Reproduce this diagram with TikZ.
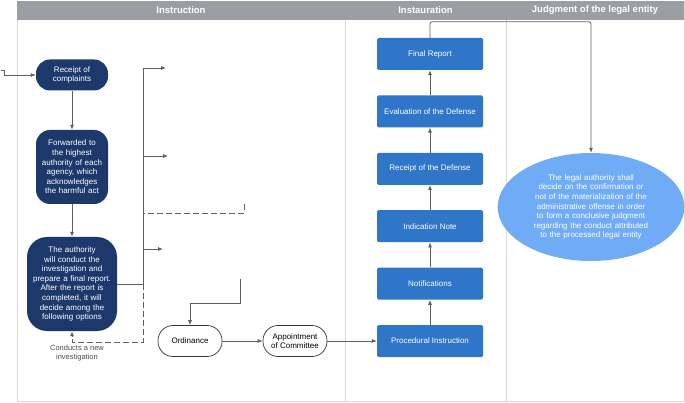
\documentclass[tikz,border=0pt]{standalone}
\usepackage{fontspec}
\setmainfont{Liberation Sans}
\definecolor{navy}{RGB}{29,57,107}
\definecolor{midblue}{RGB}{35,86,155}
\definecolor{boxblue}{RGB}{47,117,200}
\definecolor{lightblue}{RGB}{112,172,245}
\definecolor{lanegray}{RGB}{155,158,163}
\definecolor{linegray}{RGB}{95,95,95}
\usetikzlibrary{
  shapes.geometric, % ellipse
  positioning,      % relative placement
  arrows.meta
}
\pgfdeclarelayer{background}
\pgfsetlayers{background,main}
\hyphenpenalty=10000
\tikzset{
  x=1pt, y=-1pt,
  node distance=25pt and 25pt,
  every node/.style = {font=\fontsize{8}{9.6}\selectfont, align=center, inner sep=1pt},
  lane/.style = {draw=black!15, line width=0.8pt},
  head/.style = {fill=lanegray, text=white, font=\bfseries\fontsize{9.5}{11}\selectfont},
  start/.style = {rounded corners=14pt, fill=navy, text=white, minimum width=72pt},
  option/.style = {text=white},
  optfill/.style = {fill=midblue},
  stage/.style = {rectangle, rounded corners=1.5pt, fill=boxblue, text=white,
    minimum width=106pt, minimum height=32pt},
  event/.style = {rounded corners=15pt, draw=black!80, line width=0.7pt, fill=white,
    minimum height=31pt, minimum width=64pt},
  flow/.style = {draw=linegray, line width=0.8pt, -{Latex[length=5pt,width=4pt]}},
  back/.style = {flow, dashed, dash pattern=on 6pt off 3pt},
}
\begin{document}
\begin{tikzpicture}
  \useasboundingbox (0,0) rectangle (685,403);

  %% lanes
  \fill[white] (0,0) rectangle (685,403);
  \draw[lane] (17,1) rectangle (684,401);
  \draw[lane] (345,1) -- (345,401);
  \draw[lane] (506,1) -- (506,401);
  \node[head, minimum width=328pt, minimum height=19pt] at (181,10.5) {Instruction};
  \node[head, minimum width=161pt, minimum height=19pt] at (425.5,10.5) {Instauration};
  \node[head, minimum width=178pt, minimum height=19pt] at (595,10.5) {Judgment of the legal entity};

  %% nodes
  \node[start, minimum height=31pt] (RC) at (72,75) {Receipt of\\complaints};
  \node[start, minimum height=74pt, text width=70pt] (FW) at (72,167) {Forwarded to the highest authority of each agency, which acknowledges the harmful act};
  \node[start, minimum height=94pt, minimum width=89pt, text width=88pt, rounded corners=20pt] (AU) at (72,284) {The authority will conduct the investigation and prepare a final report. After the report is completed, it will decide among the following options};

  \node[option, text width=132pt] (AR) at (240,68) {Archive the matter if the received information does not bring minimum elements};
  \node[option, text width=150pt] (IR) at (244,156) {Instruct the irregularity notice if the received information does not have all the necessary information and documents for the drafting of a formal accusation, but contains elements that allow a more in-depth analysis through an administrative investigation};
  \node[option, text width=135pt] (PAR) at (240,254) {Instauration of the PAR, in the event that there is sufficient evidence to initiate a process.};
  \coordinate (ARw) at (166,68);
  \coordinate (IRw) at (168,156);
  \coordinate (PARw) at (163,249);
  \begin{pgfonlayer}{background}
    \fill[optfill] (151,92) -- (181,44) -- (328,44) -- (298,92) -- cycle;
    \fill[optfill] (151,204) -- (186,108) -- (337,108) -- (302,204) -- cycle;
    \fill[optfill] (151,279) -- (176,229) -- (328,229) -- (303,279) -- cycle;
  \end{pgfonlayer}

  \node[event] (OR) at (190,341) {Ordinance};
  \node[event] (AC) at (295,341) {Appointment\\of Committee};

  \node[stage] (PI) at (430,341) {Procedural Instruction};
  \node[stage] (NO) [above=of PI] {Notifications};
  \node[stage] (IN) [above=of NO] {Indication Note};
  \node[stage] (RD) [above=of IN] {Receipt of the Defense};
  \node[stage] (ED) [above=of RD] {Evaluation of the Defense};
  \node[stage] (FR) [above=of ED] {Final Report};

  \node[ellipse, fill=lightblue, text=white, minimum width=140pt, minimum height=108pt, text width=132pt, inner sep=0pt] (JU) at (591,207) {The legal authority shall\\decide on the confirmation or not of the materialization of the administrative offense in order to form a conclusive judgment regarding the conduct attributed to the processed legal entity};

  \node[text=black!70, font=\fontsize{7.5}{9}\selectfont] (CN) at (77,353) {Conducts a new\\investigation};

  \coordinate (IN0) at (1,70);
  \coordinate (SPL) at (143,284);

  %% arrows
  \draw[flow] (IN0) -- (4,70) -- (4,75) -- (RC.west);
  \draw[flow] (RC) -- (FW);
  \draw[flow] (FW) -- (AU);

  \draw[flow] (AU.east) -- (SPL) |- (ARw);
  \draw[flow] (SPL) |- (IRw);
  \draw[flow] (SPL) |- (PARw);
  \draw[back, -] (244,204) -- (244,213) -| (SPL);
  \draw[back] (SPL) -- (143,342) -| (AU.south);

  \draw[flow] (240,279) -- (240,303) -| (OR.north);
  \draw[flow] (OR) -- (AC);
  \draw[flow] (AC) -- (PI);

  \draw[flow] (PI) -- (NO);
  \draw[flow] (NO) -- (IN);
  \draw[flow] (IN) -- (RD);
  \draw[flow] (RD) -- (ED);
  \draw[flow] (ED) -- (FR);
  \draw[flow, rounded corners=2pt] (FR.north) -- ++(0,-16) -| (JU.north);

\end{tikzpicture}
\end{document}
